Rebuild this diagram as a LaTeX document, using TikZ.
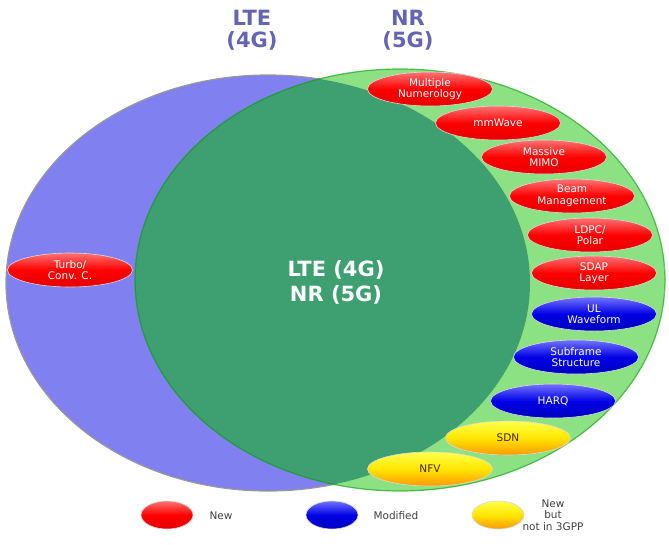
\documentclass[tikz,border=0pt]{standalone}
\usepackage{fontspec}
\setmainfont{DejaVu Sans}
\usetikzlibrary{shapes.geometric}
\definecolor{overlap}{RGB}{62,160,112}
\definecolor{outer}{RGB}{140,225,130}
\definecolor{lteblue}{RGB}{128,128,240}
\tikzset{
    pill/.style={ellipse, draw=white!70!gray, line width=.6pt, minimum width=125pt, minimum height=34pt,
        inner sep=0pt, text=white, font=\fontsize{10.5}{11.5}\selectfont, align=center},
    new/.style={pill, top color=red!55!white, bottom color=red!90!black, middle color=red},
    mod/.style={pill, top color=blue!55!white, bottom color=blue!75!black, middle color=blue!90!black},
    ext/.style={pill, top color=yellow!70!white, bottom color=orange!80!yellow, middle color=yellow!80!orange, text=black!70!orange},
    key/.style={minimum width=52pt, minimum height=28pt},
    title/.style={font=\bfseries\fontsize{21}{22}\selectfont, text=blue!35!gray!90!white, align=center},
    keytext/.style={font=\fontsize{10.5}{11.5}\selectfont, text=black!75, align=center}
}
\begin{document}
\begin{tikzpicture}[x=1pt,y=-1pt]
        \useasboundingbox (0,0) rectangle (669,544);
        % sets
        \fill[lteblue, draw=gray!80, line width=1.2pt] (268,283) ellipse [x radius=262, y radius=208];
        \begin{scope}
                \clip (400,280) ellipse [x radius=265, y radius=211];
                \fill[outer] (400,280) ellipse [x radius=265, y radius=211];
                \clip (268,283) ellipse [x radius=262, y radius=208];
                \fill[overlap] (400,280) ellipse [x radius=265, y radius=211];
        \end{scope}
        \draw[green!60!black, line width=1.2pt, opacity=.6] (400,280) ellipse [x radius=265, y radius=211];
        \node (lte) [title] at (252,30) {LTE\\(4G)};
        \node (nr) [title] at (408,30) {NR\\(5G)};
        \node (both) [font=\bfseries\fontsize{21}{25}\selectfont, text=white, align=center] at (336,282) {LTE (4G)\\NR (5G)};
        % features
        \node (num) [new] at (430,89) {Multiple\\Numerology};
        \node (mmw) [new] at (498,123) {mmWave};
        \node (mimo) [new] at (544,157) {Massive\\MIMO};
        \node (beam) [new] at (572,196) {Beam\\Management};
        \node (ldpc) [new] at (590,235) {LDPC/\\Polar};
        \node (sdap) [new] at (594,273) {SDAP\\Layer};
        \node (ul) [mod] at (594,314) {UL\\Waveform};
        \node (sub) [mod] at (576,357) {Subframe\\Structure};
        \node (harq) [mod] at (553,401) {HARQ};
        \node (sdn) [ext] at (508,438) {SDN};
        \node (nfv) [ext] at (430,469) {NFV};
        \node (turbo) [new] at (70,270) {Turbo/\\Conv. C.};
        % legend
        \node (knew) [new, key] at (167,515) {};
        \node [keytext, anchor=west] at (206,516) {New};
        \node (kmod) [mod, key] at (332,515) {};
        \node [keytext, anchor=west] at (370,516) {Modified};
        \node (kext) [ext, key] at (498,515) {};
        \node [keytext] at (553,515) {New\\but\\not in 3GPP};
\end{tikzpicture}
\end{document}
